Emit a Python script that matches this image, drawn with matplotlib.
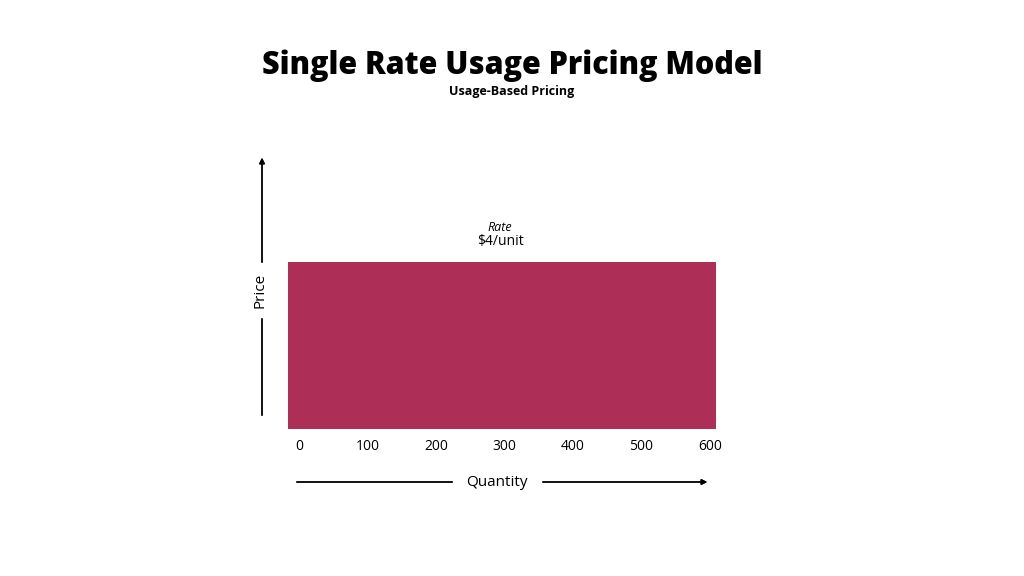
import matplotlib.pyplot as plt

quantities = [0, 100, 200, 300, 400, 500, 600]
rate_price = 4
rate_label = "$4/unit"
bar_color = "#AD2E57"

plt.rcParams["font.family"] = ["Open Sans", "DejaVu Sans"]

W, H = 1024, 576
fig = plt.figure(figsize=(W / 100, H / 100), dpi=100)


def fx(px):
    return px / W


def fy(py):
    return 1 - py / H


ax = fig.add_axes([fx(288), fy(429), fx(716) - fx(288), fy(262) - fy(429)])
ax.bar([quantities[0]], [rate_price], width=quantities[-1] - quantities[0],
       align="edge", color=bar_color)
ax.set_xlim(quantities[0], quantities[-1])
ax.set_ylim(0, rate_price)
ax.axis("off")

# tick labels under the bar
for q in quantities:
    xp = 299 + (710 - 299) * q / quantities[-1]
    fig.text(fx(xp), fy(447), str(q), ha="center", va="center", fontsize=10)

fig.text(0.5, fy(66), "Single Rate Usage Pricing Model", ha="center", va="center",
         fontsize=22, fontweight="heavy")
fig.text(0.5, fy(92), "Usage-Based Pricing", ha="center", va="center",
         fontsize=9, fontweight="bold")

fig.text(fx(500), fy(228), "Rate", ha="center", va="center", fontsize=9, style="italic")
fig.text(fx(500), fy(242), rate_label, ha="center", va="center", fontsize=10)

arrow = dict(arrowstyle="-|>", color="black", lw=1, mutation_scale=8)
line = dict(arrowstyle="-", color="black", lw=1)

# Price axis arrow
fig.text(fx(260), fy(290), "Price", rotation=90, ha="center", va="center", fontsize=11)
fig.add_artist(plt.annotate("", xy=(fx(262), fy(155)), xytext=(fx(262), fy(265)),
                            xycoords="figure fraction", arrowprops=arrow))
fig.add_artist(plt.annotate("", xy=(fx(262), fy(316)), xytext=(fx(262), fy(418)),
                            xycoords="figure fraction", arrowprops=line))

# Quantity axis arrow
fig.text(fx(497), fy(482), "Quantity", ha="center", va="center", fontsize=11)
fig.add_artist(plt.annotate("", xy=(fx(455), fy(482)), xytext=(fx(294), fy(482)),
                            xycoords="figure fraction", arrowprops=line))
fig.add_artist(plt.annotate("", xy=(fx(710), fy(482)), xytext=(fx(540), fy(482)),
                            xycoords="figure fraction", arrowprops=arrow))

fig.savefig("out.png", dpi=100)
